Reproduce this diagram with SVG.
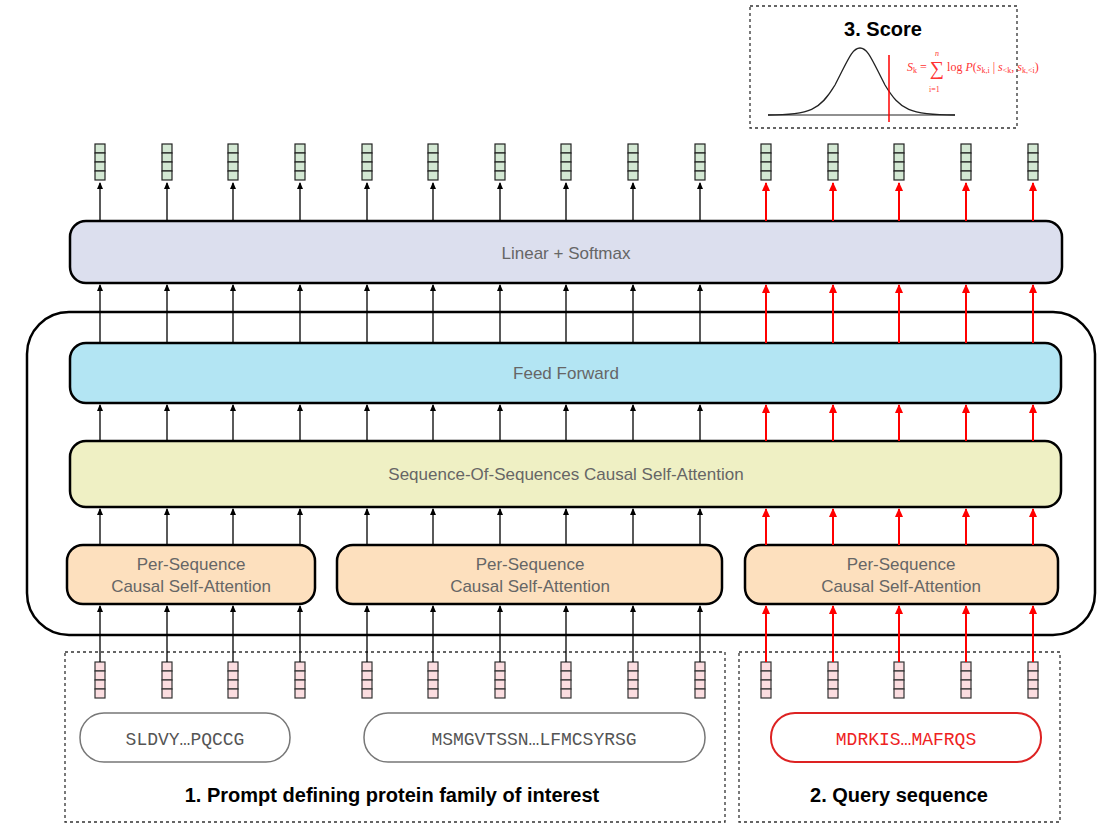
<svg xmlns="http://www.w3.org/2000/svg" width="1120" height="831" viewBox="0 0 1120 831">
<style>
.lbl{font-family:"Liberation Sans",Arial,sans-serif;font-size:17px;fill:#666;text-anchor:middle}
.ttl{font-family:"Liberation Sans",Arial,sans-serif;font-size:20px;font-weight:bold;fill:#000;text-anchor:middle}
.seq{font-family:"Liberation Mono","Courier New",monospace;font-size:18px;text-anchor:middle}
.layer{stroke:#000;stroke-width:2.5}
.dash{fill:none;stroke:#333;stroke-width:1.3;stroke-dasharray:3,3}
.a{stroke:#000;stroke-width:1.3;marker-end:url(#ab)}
.r{stroke:#f00;stroke-width:2;marker-end:url(#ar)}
.tg{fill:#d3e8d3;stroke:#222;stroke-width:1.2}
.tp{fill:#fbdde0;stroke:#333;stroke-width:1.2}
.f{font-family:"Liberation Serif",serif;fill:#f33}
</style>
<defs>
<marker id="ab" markerWidth="8" markerHeight="8" refX="6" refY="3" orient="auto" markerUnits="userSpaceOnUse"><path d="M0,0 L7,3 L0,6 z" fill="#000"/></marker>
<marker id="ar" markerWidth="10" markerHeight="10" refX="8" refY="4" orient="auto" markerUnits="userSpaceOnUse"><path d="M0,0 L9,4 L0,8 z" fill="#f00"/></marker>
<g id="tokg"><rect class="tg" x="-5" y="0" width="10" height="9"/><rect class="tg" x="-5" y="9" width="10" height="9"/><rect class="tg" x="-5" y="18" width="10" height="9"/><rect class="tg" x="-5" y="27" width="10" height="9"/></g>
<g id="tokp"><rect class="tp" x="-5" y="0" width="10" height="9"/><rect class="tp" x="-5" y="9" width="10" height="9"/><rect class="tp" x="-5" y="18" width="10" height="9"/><rect class="tp" x="-5" y="27" width="10" height="9"/></g>
<g id="ca"><line class="a" x1="0" y1="38" x2="0" y2="0"/></g>
<g id="cb"><line class="a" x1="0" y1="58" x2="0" y2="0"/></g>
<g id="cc"><line class="a" x1="0" y1="36" x2="0" y2="0"/></g>
<g id="cd"><line class="a" x1="0" y1="56" x2="0" y2="0"/></g>
<g id="ra"><line class="r" x1="0" y1="38" x2="0" y2="0"/></g>
<g id="rb"><line class="r" x1="0" y1="58" x2="0" y2="0"/></g>
<g id="rc"><line class="r" x1="0" y1="36" x2="0" y2="0"/></g>
<g id="rd"><line class="r" x1="0" y1="56" x2="0" y2="0"/></g>
</defs>
<rect width="1120" height="831" fill="#fff"/>
<g id="score">
<rect class="dash" x="750" y="6" width="267" height="122"/>
<text class="ttl" x="883" y="36">3. Score</text>
<line x1="768" y1="115" x2="955" y2="115" stroke="#222" stroke-width="1.2"/>
<path d="M768,115 C810,115 820,110 835,85 C848,60 852,48 860,48 C868,48 872,60 885,85 C900,110 910,115 955,115" fill="none" stroke="#222" stroke-width="1.3"/>
<line x1="889" y1="55" x2="889" y2="122" stroke="#f00" stroke-width="1.5"/>
<text class="f" x="907" y="71" font-size="12"><tspan font-style="italic">S</tspan><tspan font-size="8" dy="2">k</tspan><tspan dy="-2"> = </tspan><tspan font-size="20" dy="4">∑</tspan><tspan dy="-4"> log </tspan><tspan font-style="italic">P</tspan>(<tspan font-style="italic">s</tspan><tspan font-size="8" dy="2">k,i</tspan><tspan dy="-2"> | </tspan><tspan font-style="italic">s</tspan><tspan font-size="8" dy="2">&lt;k</tspan><tspan dy="-2">, </tspan><tspan font-style="italic">s</tspan><tspan font-size="8" dy="2">k,&lt;i</tspan><tspan dy="-2">)</tspan></text>
<text class="f" x="935" y="56" font-size="8" font-style="italic">n</text>
<text class="f" x="929" y="92" font-size="8">i=1</text>
</g>
<g id="outtokens">
<use href="#tokg" x="100" y="144"/><use href="#tokg" x="167" y="144"/><use href="#tokg" x="233" y="144"/><use href="#tokg" x="300" y="144"/><use href="#tokg" x="367" y="144"/><use href="#tokg" x="433" y="144"/><use href="#tokg" x="500" y="144"/><use href="#tokg" x="566" y="144"/><use href="#tokg" x="633" y="144"/><use href="#tokg" x="700" y="144"/><use href="#tokg" x="766" y="144"/><use href="#tokg" x="833" y="144"/><use href="#tokg" x="899" y="144"/><use href="#tokg" x="966" y="144"/><use href="#tokg" x="1033" y="144"/>
</g>
<g id="outer"><rect x="27" y="312" width="1068" height="323" rx="42" fill="none" stroke="#000" stroke-width="2.5"/></g>
<g id="linear"><rect class="layer" x="70" y="221" width="992" height="62" rx="16" fill="#dcdfee"/><text class="lbl" x="566" y="259">Linear + Softmax</text></g>
<g id="ff"><rect class="layer" x="70" y="343" width="991" height="60" rx="16" fill="#b3e5f3"/><text class="lbl" x="566" y="379">Feed Forward</text></g>
<g id="sos"><rect class="layer" x="70" y="441" width="991" height="66" rx="16" fill="#eff0c4"/><text class="lbl" x="566" y="480">Sequence-Of-Sequences Causal Self-Attention</text></g>
<g id="ps1"><rect class="layer" x="67" y="545" width="248" height="59" rx="16" fill="#fde0be"/><text class="lbl" x="191" y="570">Per-Sequence</text><text class="lbl" x="191" y="592">Causal Self-Attention</text></g>
<g id="ps2"><rect class="layer" x="337" y="545" width="385" height="59" rx="16" fill="#fde0be"/><text class="lbl" x="530" y="570">Per-Sequence</text><text class="lbl" x="530" y="592">Causal Self-Attention</text></g>
<g id="ps3"><rect class="layer" x="745" y="545" width="313" height="59" rx="16" fill="#fde0be"/><text class="lbl" x="901" y="570">Per-Sequence</text><text class="lbl" x="901" y="592">Causal Self-Attention</text></g>
<g id="prompt">
<rect class="dash" x="65" y="652" width="660" height="170"/>
<rect x="80" y="713" width="210" height="49" rx="24" fill="#fff" stroke="#777" stroke-width="1.5"/>
<text class="seq" x="185" y="745" fill="#555">SLDVY…PQCCG</text>
<rect x="364" y="713" width="341" height="49" rx="24" fill="#fff" stroke="#777" stroke-width="1.5"/>
<text class="seq" x="534" y="745" fill="#555">MSMGVTSSN…LFMCSYRSG</text>
<text class="ttl" x="392" y="802">1. Prompt defining protein family of interest</text>
</g>
<g id="query">
<rect class="dash" x="739" y="652" width="321" height="170"/>
<rect x="771" y="713" width="270" height="49" rx="24" fill="#fff" stroke="#d22" stroke-width="2"/>
<text class="seq" x="906" y="745" fill="#e22">MDRKIS…MAFRQS</text>
<text class="ttl" x="899" y="802">2. Query sequence</text>
</g>
<g id="intokens">
<use href="#tokp" x="100" y="662"/><use href="#tokp" x="167" y="662"/><use href="#tokp" x="233" y="662"/><use href="#tokp" x="300" y="662"/><use href="#tokp" x="367" y="662"/><use href="#tokp" x="433" y="662"/><use href="#tokp" x="500" y="662"/><use href="#tokp" x="566" y="662"/><use href="#tokp" x="633" y="662"/><use href="#tokp" x="700" y="662"/><use href="#tokp" x="766" y="662"/><use href="#tokp" x="833" y="662"/><use href="#tokp" x="899" y="662"/><use href="#tokp" x="966" y="662"/><use href="#tokp" x="1033" y="662"/>
</g>
<g id="connectors">
<use href="#ca" x="100" y="183"/><use href="#ca" x="167" y="183"/><use href="#ca" x="233" y="183"/><use href="#ca" x="300" y="183"/><use href="#ca" x="367" y="183"/><use href="#ca" x="433" y="183"/><use href="#ca" x="500" y="183"/><use href="#ca" x="566" y="183"/><use href="#ca" x="633" y="183"/><use href="#ca" x="700" y="183"/>
<use href="#cb" x="100" y="285"/><use href="#cb" x="167" y="285"/><use href="#cb" x="233" y="285"/><use href="#cb" x="300" y="285"/><use href="#cb" x="367" y="285"/><use href="#cb" x="433" y="285"/><use href="#cb" x="500" y="285"/><use href="#cb" x="566" y="285"/><use href="#cb" x="633" y="285"/><use href="#cb" x="700" y="285"/>
<use href="#cc" x="100" y="405"/><use href="#cc" x="167" y="405"/><use href="#cc" x="233" y="405"/><use href="#cc" x="300" y="405"/><use href="#cc" x="367" y="405"/><use href="#cc" x="433" y="405"/><use href="#cc" x="500" y="405"/><use href="#cc" x="566" y="405"/><use href="#cc" x="633" y="405"/><use href="#cc" x="700" y="405"/>
<use href="#cc" x="100" y="509"/><use href="#cc" x="167" y="509"/><use href="#cc" x="233" y="509"/><use href="#cc" x="300" y="509"/><use href="#cc" x="367" y="509"/><use href="#cc" x="433" y="509"/><use href="#cc" x="500" y="509"/><use href="#cc" x="566" y="509"/><use href="#cc" x="633" y="509"/><use href="#cc" x="700" y="509"/>
<use href="#cd" x="100" y="606"/><use href="#cd" x="167" y="606"/><use href="#cd" x="233" y="606"/><use href="#cd" x="300" y="606"/><use href="#cd" x="367" y="606"/><use href="#cd" x="433" y="606"/><use href="#cd" x="500" y="606"/><use href="#cd" x="566" y="606"/><use href="#cd" x="633" y="606"/><use href="#cd" x="700" y="606"/>
<use href="#ra" x="766" y="183"/><use href="#ra" x="833" y="183"/><use href="#ra" x="899" y="183"/><use href="#ra" x="966" y="183"/><use href="#ra" x="1033" y="183"/>
<use href="#rb" x="766" y="285"/><use href="#rb" x="833" y="285"/><use href="#rb" x="899" y="285"/><use href="#rb" x="966" y="285"/><use href="#rb" x="1033" y="285"/>
<use href="#rc" x="766" y="405"/><use href="#rc" x="833" y="405"/><use href="#rc" x="899" y="405"/><use href="#rc" x="966" y="405"/><use href="#rc" x="1033" y="405"/>
<use href="#rc" x="766" y="509"/><use href="#rc" x="833" y="509"/><use href="#rc" x="899" y="509"/><use href="#rc" x="966" y="509"/><use href="#rc" x="1033" y="509"/>
<use href="#rd" x="766" y="606"/><use href="#rd" x="833" y="606"/><use href="#rd" x="899" y="606"/><use href="#rd" x="966" y="606"/><use href="#rd" x="1033" y="606"/>
</g>
</svg>
